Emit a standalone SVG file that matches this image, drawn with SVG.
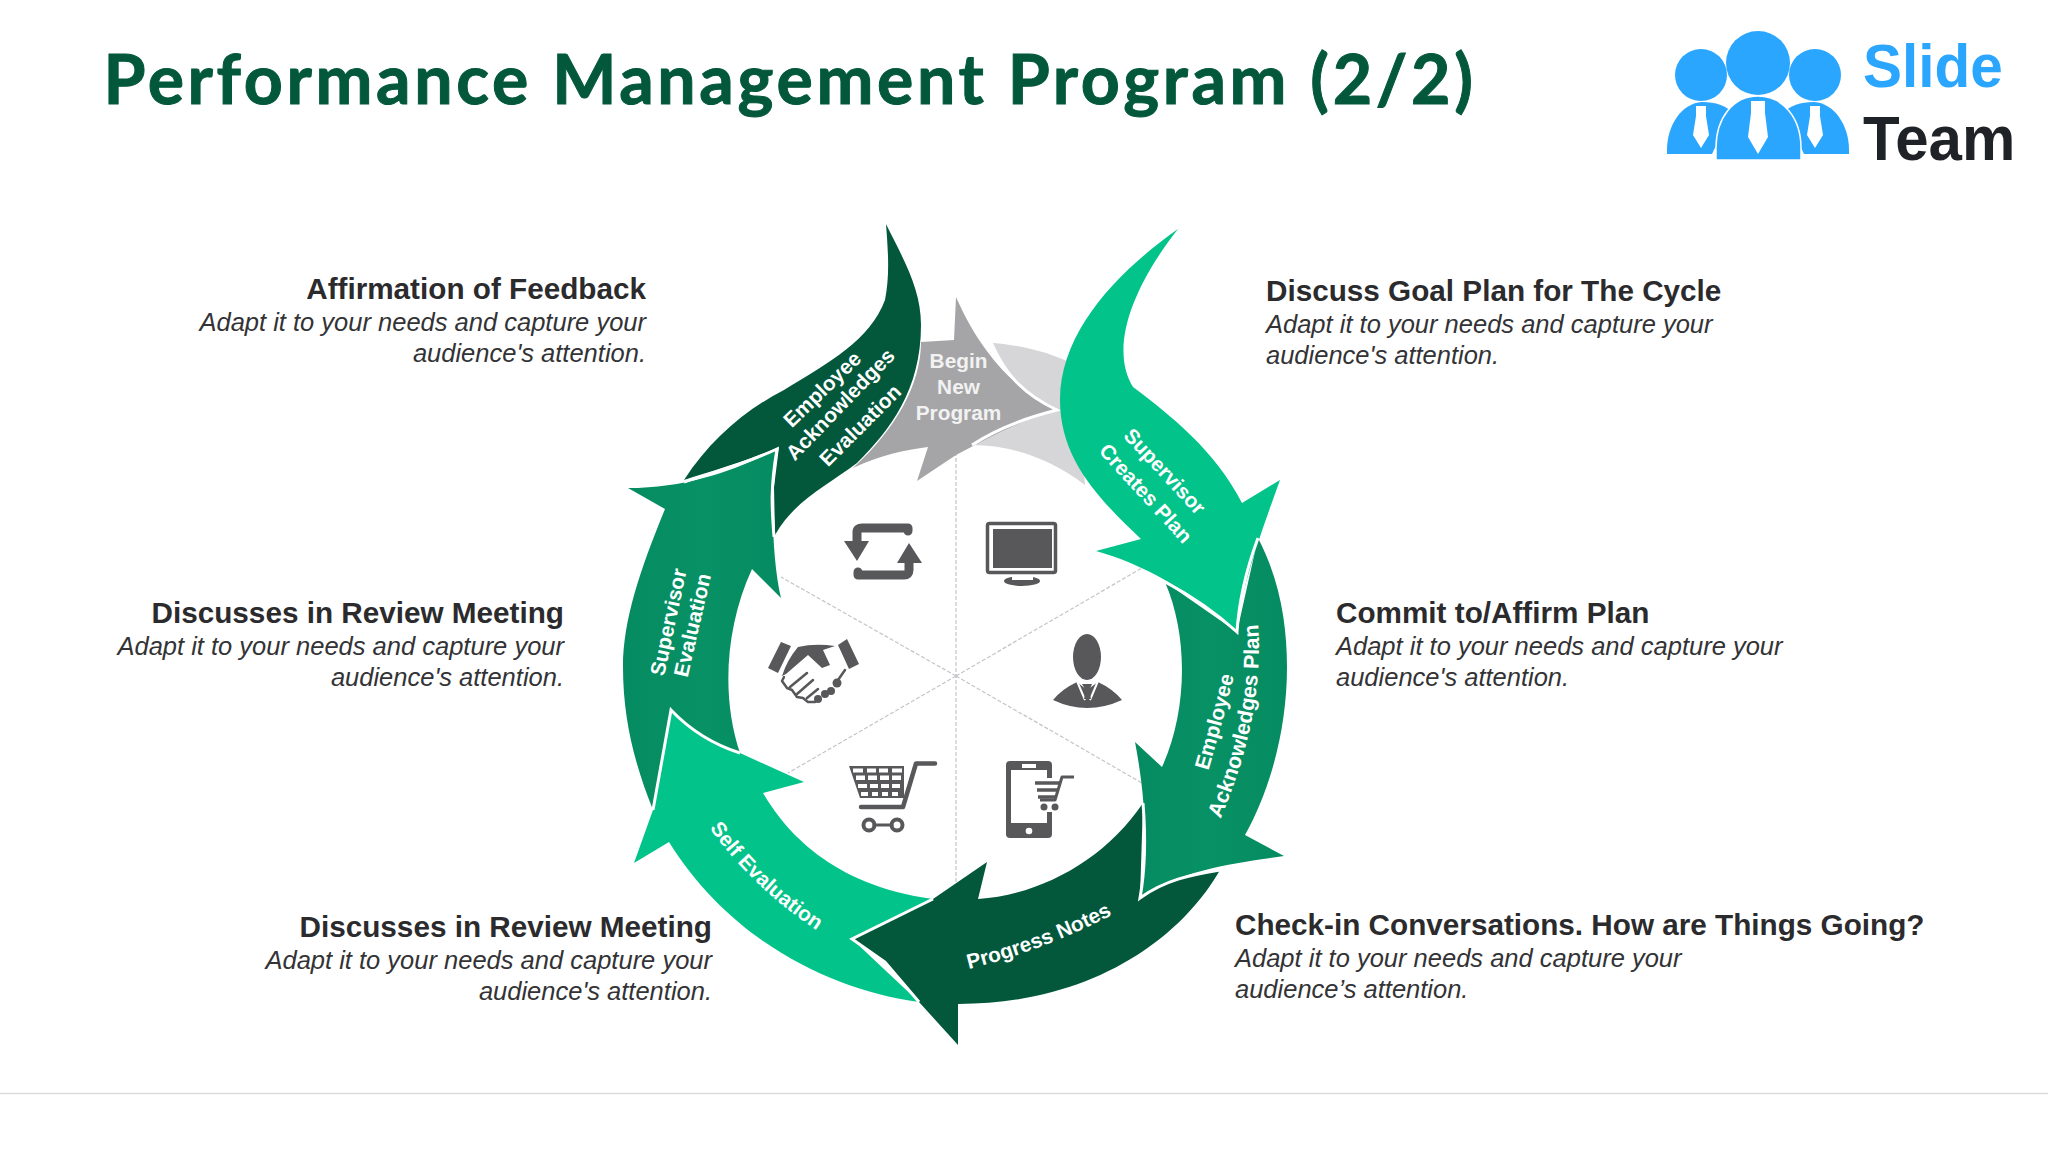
<svg xmlns="http://www.w3.org/2000/svg" width="2048" height="1152" viewBox="0 0 2048 1152">
<style>
.h{font:bold 29.700px "Liberation Sans",Arial,sans-serif;fill:#2b2b2e}
.b{font:italic 25.500px "Liberation Sans",Arial,sans-serif;fill:#333336}
.e{text-anchor:end}
.l{fill:none;stroke:#fff;stroke-width:3}
.w{font:bold 20.800px "Liberation Sans",Arial,sans-serif;fill:#fff;text-anchor:middle;dominant-baseline:central}
.p{font:bold 20.800px "Liberation Sans",Arial,sans-serif;fill:#fff;text-anchor:middle}
.i{fill:#58575a}
.s{fill:none;stroke:#58575a;stroke-linecap:round;stroke-linejoin:round}
.d{fill:none;stroke:#c4c3c8;stroke-width:1.2;stroke-dasharray:4 2}
</style>
<defs>
<linearGradient id="gm" x1="0" y1="0" x2="1" y2="0"><stop offset="0" stop-color="#068b61"/><stop offset=".5" stop-color="#079164"/><stop offset="1" stop-color="#068b61"/></linearGradient>
<path id="t-ackplan" d="M1219 822Q1265 717 1258 621"/>
<path id="t-empplan" d="M1206 778Q1222 725 1236 668"/>
<path id="t-self" d="M706 823Q750 887 822 934"/>
<path id="t-prog" d="M965 970Q1043 951 1116 913"/>
</defs>
<rect width="2048" height="1152" fill="#fff"/>
<path d="M0 1093.500H2048" stroke="#dcdcdc" stroke-width="1.500"/>
<text id="title" x="103.500" y="104" style="font:bold 68px Lato,'Noto Sans',sans-serif;fill:#03583c;stroke:#03583c;stroke-width:1;letter-spacing:3.650px">Performance Management Program (2/2)</text>

<g id="logo">
<g fill="#2ba6ff">
<circle cx="1701" cy="75" r="26"/><circle cx="1815" cy="75" r="26"/><circle cx="1758" cy="63" r="32"/>
<path d="M1667 154V150C1667 125 1682 103 1702 102C1716 102 1726 106 1732 112L1712 154Z"/>
<path d="M1849 154V150C1849 125 1834 103 1814 102C1800 102 1790 106 1784 112L1804 154Z"/>
<path d="M1716 160V148C1716 118 1733 96 1758 96C1783 96 1801 118 1801 148V160Z" stroke="#fff" stroke-width="1.500"/>
</g>
<g fill="#fff">
<path d="M1696 106H1706V116L1709 135L1701 148L1693 135L1696 116Z"/>
<path d="M1810 106H1820V116L1823 135L1815 148L1807 135L1810 116Z"/>
<path d="M1751 101H1765V113L1768 137L1758 154L1748 137L1751 113Z"/>
</g>
<text transform="translate(1863 87) scale(1 1.050)" style="font:bold 58.500px 'Liberation Sans',sans-serif;fill:#2ba6ff">Slide</text>
<text transform="translate(1863 160) scale(1 1.050)" style="font:bold 60px 'Liberation Sans',sans-serif;fill:#1f2328">Team</text>
</g>

<g id="connectors">
<path class="d" d="M956 440V895M956 676L1142 568M956 676L1142 783M956 676L781 577M956 676L788 773"/>
</g>

<g id="begin-ring"><path fill="#d6d6d8" d="M993 343C1020 345 1050 352 1075 365L1085 485C1050 458 1010 445 972 445C995 430 1025 418 1057 410C1025 395 1008 375 993 343Z"/></g>
<g id="begin"><path fill="#a5a5a7" d="M956 297C975 340 1005 385 1057 410C1020 420 985 440 956 455L917 481L928 447C905 450 880 455 853 468C895 430 921 385 921 342L954 340Z"/>
<path class="l" d="M988 340C1005 375 1025 395 1057 410C1025 418 995 430 972 445"/>
<text class="w" x="958.500" y="360.500" style="fill:#f2f2f2">Begin</text><text class="w" x="958.500" y="386" style="fill:#f2f2f2">New</text><text class="w" x="958.500" y="412" style="fill:#f2f2f2">Program</text></g>

<g id="employee-acknowledges-evaluation"><path fill="#03583c" d="M886 224C905 262 921 290 921 325C921 390 890 430 857 463C825 487 795 500 775 535L774 487L779 447C745 462 715 470 684 480C710 440 745 410 784 390C830 362 870 340 885 300C890 275 888 250 886 224Z"/>
<text class="w" transform="translate(822 389) rotate(-44)">Employee</text><text class="w" transform="translate(840 404) rotate(-46)">Acknowledges</text><text class="w" transform="translate(860 425) rotate(-45)">Evaluation</text></g>

<g id="supervisor-evaluation"><path fill="url(#gm)" d="M777 449C740 468 690 488 628 488L665 509C640 570 623 620 623 667C623 720 635 765 653 810L700 780L740 753C722 700 724 630 752 569L781 598C772 560 770 490 777 449Z"/>
<path class="l" d="M684 482C715 472 745 464 777 449C770 490 772 510 774 537"/>
<text class="w" transform="translate(668 622) rotate(-78)">Supervisor</text><text class="w" transform="translate(692 625) rotate(-77)">Evaluation</text></g>

<g id="self-evaluation"><path fill="#02c389" d="M671 710C690 730 715 745 740 753L804 782L763 793C785 830 830 885 933 899L852 939L919 1002C830 990 730 940 669 842L634 863L653 810Z"/>
<path class="l" d="M653 810L671 710C690 730 715 745 740 753"/>
<text class="p"><textPath href="#t-self" startOffset="50%">Self Evaluation</textPath></text></g>

<g id="progress-notes"><path fill="#03583c" d="M852 939L933 899L987 862L978 899C1040 895 1105 860 1143 803L1140 898C1165 880 1190 875 1220 870C1180 940 1090 1004 958 1004L958 1045L919 1002L885 962Z"/>
<path class="l" d="M933 899L852 939L885 962L919 1002"/>
<text class="p"><textPath href="#t-prog" startOffset="50%">Progress Notes</textPath></text></g>

<g id="employee-acknowledges-plan"><path fill="url(#gm)" d="M1140 898C1148 850 1146 800 1135 742L1162 767C1186 715 1190 640 1165 582L1237 632L1258 538C1280 580 1287 625 1287 667C1287 730 1270 790 1245 835L1284 856C1235 863 1180 870 1140 898Z"/>
<path class="l" d="M1143 803C1146 840 1145 870 1140 898C1165 880 1190 875 1220 870"/>
<text class="p"><textPath href="#t-empplan" startOffset="50%">Employee</textPath></text><text class="p" style="font-size:21.300px"><textPath href="#t-ackplan" startOffset="50%">Acknowledges Plan</textPath></text></g>

<g id="supervisor-creates-plan"><path fill="#02c389" d="M1178 229C1120 270 1060 330 1060 400C1060 460 1100 500 1141 539L1096 551C1140 563 1190 590 1237 632C1240 590 1262 530 1280 480L1242 503C1215 450 1170 415 1133 387C1110 350 1130 290 1178 229Z"/>
<path class="l" d="M1165 582C1190 595 1215 612 1237 632C1239 600 1248 565 1258 538"/>
<text class="w" transform="translate(1165 471) rotate(47)">Supervisor</text><text class="w" transform="translate(1146 493) rotate(47.500)">Creates Plan</text></g>

<g id="icon-refresh">
<path class="s" stroke-width="9" d="M857 542V532Q857 528 862 528H908V531M909 562V570Q909 575 904 575H858V572"/>
<path class="i" d="M844 541H869L857 561ZM897 563H922L909 543Z"/>
</g>
<g id="icon-monitor">
<rect x="987.500" y="523.500" width="68" height="49" rx="2" fill="none" stroke="#58575a" stroke-width="3.500"/>
<rect class="i" x="993" y="529" width="59" height="39"/>
<ellipse class="i" cx="1022" cy="581" rx="18" ry="5"/>
<rect x="1012" y="576" width="21" height="4" fill="#fff"/>
</g>
<g id="icon-person">
<ellipse class="i" cx="1087" cy="657" rx="14" ry="23"/>
<path class="i" d="M1053 700Q1062 689 1077 682L1087 690L1098 682Q1113 689 1122 700Q1087 716 1053 700Z"/>
<path d="M1077 681L1085 700M1098 681L1090 700" stroke="#fff" stroke-width="2"/>
<path class="i" d="M1082 684H1092L1089 691L1091 699H1084L1086 691Z"/>
</g>
<g id="icon-phone-cart">
<rect class="i" x="1006" y="761" width="46" height="77" rx="4"/>
<rect x="1011" y="770" width="36" height="53" fill="#fff"/>
<rect x="1022" y="764" width="14" height="4" fill="#fff"/>
<circle cx="1029" cy="831" r="3.300" fill="#fff"/>
<rect x="1046" y="778" width="7" height="34" fill="#fff"/>
<path class="s" stroke-width="3" style="stroke-linecap:butt" d="M1074 777H1062L1055 800H1040"/>
<path class="s" stroke-width="3.500" style="stroke-linecap:butt" d="M1035 783H1061M1037 790H1059M1038 797H1057"/>
<circle class="i" cx="1044" cy="807" r="3.500"/><circle class="i" cx="1055" cy="807" r="3.500"/>
</g>
<g id="icon-cart">
<path class="i" d="M849 766H904V798H860Z"/>
<path fill="#fff" d="M853 768.500h10v4h-10zM867 768.500h9v4h-9zM879 768.500h9v4h-9zM892 768.500h10v4h-10zM856 775.500h9v4.500h-9zM868 775.500h9v4.500h-9zM880 775.500h9v4.500h-9zM892 775.500h9v4.500h-9zM858 784h9v4h-9zM870 784h8v4h-8zM881 784h8v4h-8zM892 784h8v4h-8zM861 792h7v4h-7zM872 792h6v4h-6zM882 792h6v4h-6zM892 792h6v4h-6z"/>
<path class="s" stroke-width="4.500" d="M935 763.500H916L903 807H861"/>
<circle cx="869" cy="825" r="5.500" fill="none" stroke="#58575a" stroke-width="4"/>
<circle cx="897" cy="825" r="5.500" fill="none" stroke="#58575a" stroke-width="4"/>
<path class="s" stroke-width="3" d="M874 825H892"/>
</g>
<g id="icon-handshake">
<path class="i" d="M781 642L791 646L778 673L768 668ZM847 639L859 664L849 669L838 645Z"/>
<path class="i" d="M798 647Q815 643 835 646L823 650L830 665L822 668L808 655L786 674L782 676Q787 660 798 647Z"/>
<path class="s" stroke-width="2.500" d="M784 677L782 681L787 688L792 690L797 697L803 698L808 702L815 702M790 687L807 673M797 694L813 680M807 698L818 689M838 680L845 670"/>
<circle class="i" cx="818" cy="699" r="4"/><circle class="i" cx="825" cy="694" r="4"/><circle class="i" cx="831" cy="691" r="4"/><circle class="i" cx="837" cy="683" r="4.500"/>
</g>

<g id="label-affirmation"><text class="h e" x="646" y="299">Affirmation of Feedback</text><text class="b e" x="646" y="331">Adapt it to your needs and capture your</text><text class="b e" x="646" y="362">audience's attention.</text></g>
<g id="label-goal"><text class="h" x="1266" y="301">Discuss Goal Plan for The Cycle</text><text class="b" x="1266" y="333">Adapt it to your needs and capture your</text><text class="b" x="1266" y="364">audience's attention.</text></g>
<g id="label-commit"><text class="h" x="1336" y="623">Commit to/Affirm Plan</text><text class="b" x="1336" y="655">Adapt it to your needs and capture your</text><text class="b" x="1336" y="686">audience's attention.</text></g>
<g id="label-review-1"><text class="h e" x="564" y="623">Discusses in Review Meeting</text><text class="b e" x="564" y="655">Adapt it to your needs and capture your</text><text class="b e" x="564" y="686">audience's attention.</text></g>
<g id="label-review-2"><text class="h e" x="712" y="937">Discusses in Review Meeting</text><text class="b e" x="712" y="969">Adapt it to your needs and capture your</text><text class="b e" x="712" y="1000">audience's attention.</text></g>
<g id="label-checkin"><text class="h" x="1235" y="935">Check-in Conversations. How are Things Going?</text><text class="b" x="1235" y="967">Adapt it to your needs and capture your</text><text class="b" x="1235" y="998">audience’s attention.</text></g>
</svg>
